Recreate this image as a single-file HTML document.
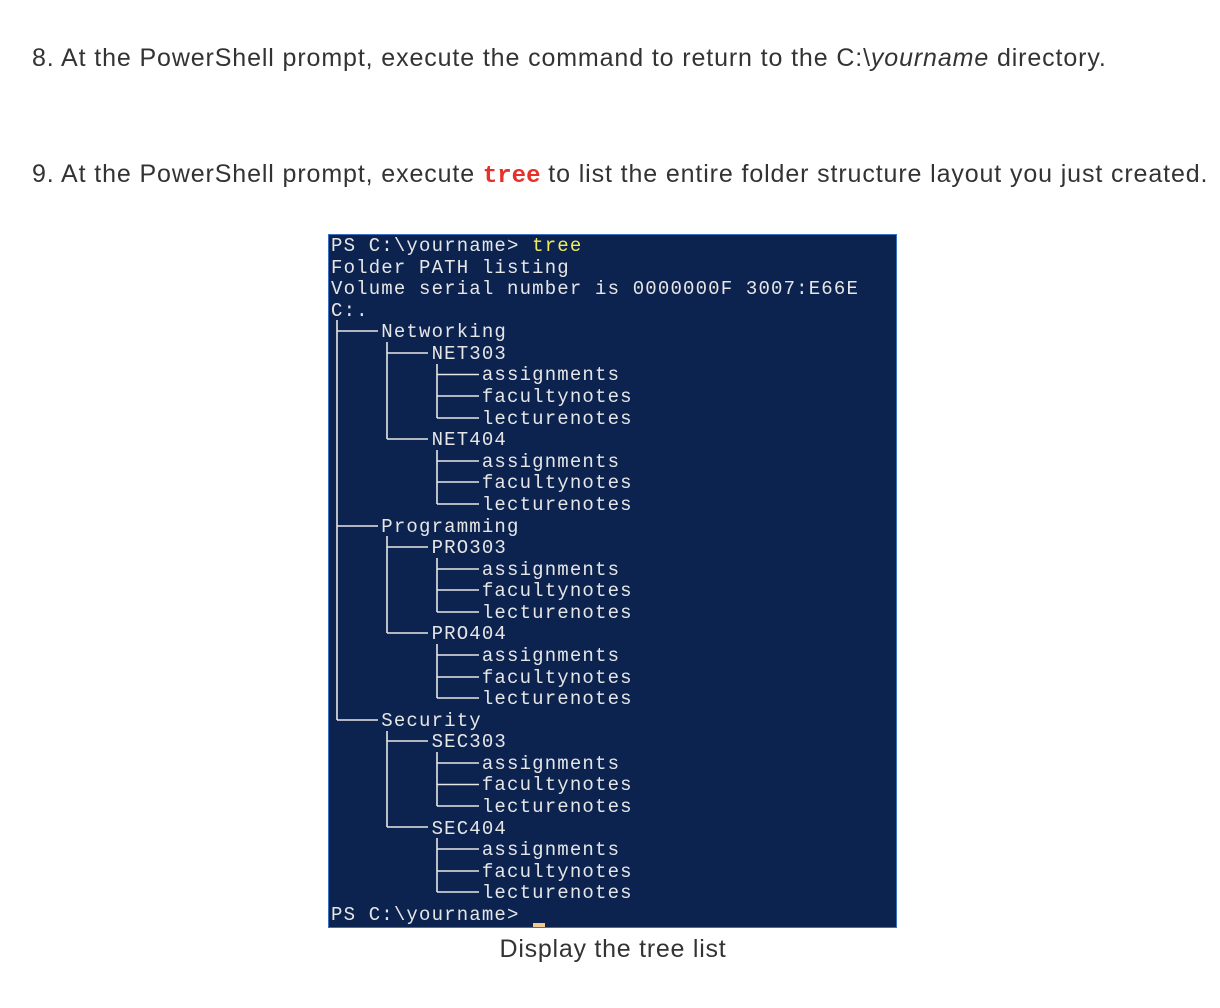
<!DOCTYPE html>
<html><head><meta charset="utf-8"><style>
html,body{margin:0;padding:0;background:#fff;}
body{width:1220px;height:1008px;position:relative;overflow:hidden;font-family:"Liberation Sans",sans-serif;color:#333;}
.p{position:absolute;left:32px;font-size:25px;white-space:nowrap;letter-spacing:0.88px;}
.code{font-family:"Liberation Mono",monospace;color:#e8302a;font-weight:bold;font-size:24px;letter-spacing:0;}
#con{position:absolute;left:328px;top:234px;width:567px;height:692px;background:#0c2350;border:1px solid #3a70c4;box-sizing:content-box;}
pre{position:absolute;left:2px;top:1px;margin:0;font-family:"Liberation Mono",monospace;font-size:19px;line-height:21.58px;letter-spacing:1.17px;color:#e6e6e6;}
.y{color:#eeec5a;}
svg{position:absolute;left:0;top:0;}
.cap{position:absolute;left:0;width:1226px;text-align:center;top:935px;font-size:25px;letter-spacing:0.75px;}
</style></head><body>
<div class="p" style="top:44px">8. At the PowerShell prompt, execute the command to return to the C:\<i>yourname</i> directory.</div>
<div class="p" style="top:160px">9. At the PowerShell prompt, execute <span class="code">tree</span> to list the entire folder structure layout you just created.</div>
<div id="con">
<pre>PS C:\yourname&gt; <span class="y">tree</span>
Folder PATH listing
Volume serial number is 0000000F 3007:E66E
C:.
    Networking
        NET303
            assignments
            facultynotes
            lecturenotes
        NET404
            assignments
            facultynotes
            lecturenotes
    Programming
        PRO303
            assignments
            facultynotes
            lecturenotes
        PRO404
            assignments
            facultynotes
            lecturenotes
    Security
        SEC303
            assignments
            facultynotes
            lecturenotes
        SEC404
            assignments
            facultynotes
            lecturenotes
PS C:\yourname&gt;</pre>
<div style="position:absolute;left:204px;top:688px;width:12px;height:4px;background:#f0c890"></div>
</div>
<svg width="1220" height="1008" stroke="#e6e6e6" stroke-width="1.6" fill="none">
<path d="M337 320V720M337 331H378M337 526H378M337 720H378"/>
<path d="M387 342V439M387 353H428M387 439H428"/>
<path d="M387 536V633M387 547H428M387 633H428"/>
<path d="M387 731V827M387 741H428M387 827H428"/>
<path d="M437 364V418M437 374.5H479M437 396H479M437 418H479"/>
<path d="M437 450V504M437 461H479M437 482H479M437 504H479"/>
<path d="M437 558V612M437 569H479M437 590H479M437 612H479"/>
<path d="M437 644V698M437 655H479M437 677H479M437 698H479"/>
<path d="M437 752V806M437 763H479M437 784.5H479M437 806H479"/>
<path d="M437 838V892M437 849H479M437 871H479M437 892H479"/>
</svg>
<div class="cap">Display the tree list</div>
</body></html>
